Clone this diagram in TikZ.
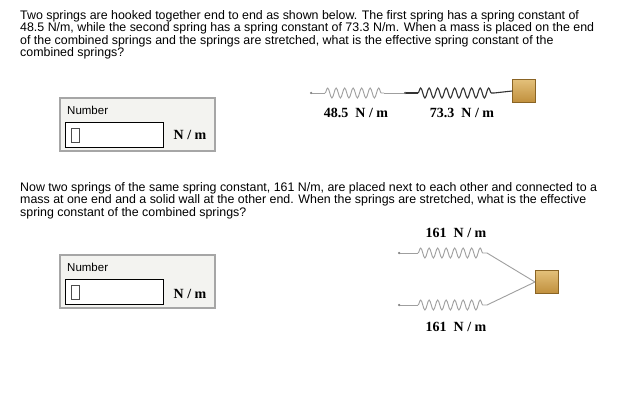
\documentclass[tikz,border=0pt]{standalone}
\usepackage{fontspec}
\setmainfont{Liberation Sans}
\newfontfamily\serifb{Liberation Serif}
\usetikzlibrary{decorations.pathmorphing}
\definecolor{masstop}{HTML}{E3C07A}
\definecolor{massbot}{HTML}{C08F3C}
\definecolor{massedge}{HTML}{8A6424}
\begin{document}
\begin{tikzpicture}[x=1pt,y=-1pt,
  para/.style={anchor=north west,align=left,inner sep=0pt,font=\fontsize{12.4}{11}\selectfont},
  lab/.style={font=\serifb\bfseries\fontsize{14}{14}\selectfont,inner sep=0pt},
  wire/.style={draw=gray!75,line width=0.9pt},
  wire2/.style={draw=black!80,line width=1.1pt},
  coil/.style={decorate,decoration={snake,segment length=8.5pt,amplitude=5pt}},
  dotn/.style={circle,fill=gray,inner sep=0pt,minimum size=2.5pt},
  mass/.style={draw=massedge,top color=masstop,bottom color=massbot,minimum width=23pt,minimum height=23pt,inner sep=0pt},
  panel/.style={draw=gray!70,line width=2pt,fill=yellow!10!gray!12,minimum width=155pt,minimum height=53pt,inner sep=0pt},
  field/.style={draw=black,fill=white,minimum width=98pt,minimum height=25pt,inner sep=0pt},
  cur/.style={draw=black!70,fill=white,minimum width=8pt,minimum height=14pt,inner sep=0pt},
  numl/.style={anchor=west,inner sep=0pt,font=\fontsize{11.5}{12}\selectfont}]
\useasboundingbox (0,0) rectangle (637,414);
\fill[white] (0,0) rectangle (637,414);
\node[para] (t1) at (20,10) {Two springs are hooked together end to end as shown below. The first spring has a spring constant of\\48.5 N/m, while the second spring has a spring constant of 73.3 N/m. When a mass is placed on the end\\of the combined springs and the springs are stretched, what is the effective spring constant of the\\combined springs?};
% series springs
\node[dotn] (a0) at (311,93) {};
\coordinate (a1) at (325,93);
\coordinate (a2) at (384,93);
\node[dotn,fill=black!70] (b0) at (405,93) {};
\coordinate (b1) at (418,93);
\coordinate (b2) at (494,93);
\node[mass] (m1) at (524,91) {};
\draw[wire] (a0) -- (a1);
\draw[wire,coil] (a1) -- (a2);
\draw[wire] (a2) -- (b0);
\draw[wire2] (b0) -- (b1);
\draw[wire2,coil] (b1) -- (b2);
\draw[wire2] (b2) -- (m1.west);
\node[lab] (l1) at (356,113) {48.5\ \ N / m};
\node[lab] (l2) at (462,113) {73.3\ \ N / m};
% panel 1
\node[panel] (p1) at (137.5,124.5) {};
\node[numl] (n1) at (67,110) {Number};
\node[field] (f1) at (114,135) {};
\node[cur] (c1) at (75,135) {};
\node[lab] (u1) at (190,135) {N / m};
% paragraph 2
\node[para] (t2) at (20,182) {Now two springs of the same spring constant, 161 N/m, are placed next to each other and connected to a\\mass at one end and a solid wall at the other end. When the springs are stretched, what is the effective\\spring constant of the combined springs?};
% parallel springs
\node[dotn] (c0) at (399,253) {};
\coordinate (c1a) at (418,253);
\coordinate (c2a) at (487,253);
\node[dotn] (d0) at (399,305) {};
\coordinate (d1) at (418,305);
\coordinate (d2) at (487,305);
\node[mass] (m2) at (547,282) {};
\coordinate (j) at (535,282);
\draw[wire] (c0) -- (c1a);
\draw[wire,coil] (c1a) -- (c2a);
\draw[wire] (c2a) -- (j);
\draw[wire] (d0) -- (d1);
\draw[wire,coil] (d1) -- (d2);
\draw[wire] (d2) -- (j);
\node[lab] (l3) at (456,233) {161\ \ N / m};
\node[lab] (l4) at (456,327) {161\ \ N / m};
% panel 2
\node[panel] (p2) at (137.5,281.5) {};
\node[numl] (n2) at (67,267) {Number};
\node[field] (f2) at (114,292) {};
\node[cur] (c2) at (75,292) {};
\node[lab] (u2) at (190,294) {N / m};
\end{tikzpicture}
\end{document}
